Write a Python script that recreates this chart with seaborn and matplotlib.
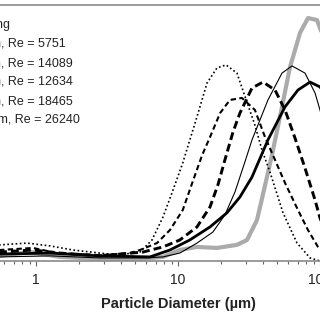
import matplotlib
matplotlib.use("Agg")
import matplotlib.pyplot as plt
import seaborn as sns
import pandas as pd
from matplotlib.ticker import LogLocator, NullFormatter, FixedLocator, FixedFormatter

# Particle size distributions: diameter (um) vs volume density (%)
milling_d = [0.3, 0.558, 0.907, 1.476, 2.82, 4.59, 7.84, 10.3, 13.6, 18.8, 26.0, 30.6, 36.0,
             40.3, 45.9, 54.0, 61.5, 66.7, 72.3, 82.3, 95.3, 100, 117.6, 138, 163, 191, 225]
milling_v = [0.15, 0.20, 0.35, 0.16, 0.08, 0.04, 0.16, 0.43, 0.55, 0.51, 0.63, 0.82, 1.60,
             2.77, 4.14, 6.02, 7.58, 8.24, 8.91, 9.49, 9.41, 9.10, 8.0, 6.3, 3.9, 1.6, 0.4]

re5751_d = [0.3, 0.558, 1.255, 2.82, 6.35, 8.78, 12.1, 16.8, 22.1, 27.3, 33.2, 43.0, 56.7,
            70.0, 85.1, 100, 127.6, 162.6, 265, 430]
re5751_v = [0.2, 0.27, 0.31, 0.20, 0.16, 0.43, 0.82, 1.33, 1.88, 2.50, 3.28, 4.73, 6.02,
            6.68, 6.99, 6.80, 5.90, 4.34, 1.60, 0.23]

re14089_d = [0.3, 0.558, 1.255, 2.82, 6.05, 7.84, 10.3, 13.6, 17.6, 21.4, 25.2, 29.6, 33.2,
             43.0, 54.0, 63.5, 78.4, 92.3, 100, 117.6, 150, 225, 366]
re14089_v = [0.1, 0.16, 0.20, 0.12, 0.12, 0.16, 0.31, 0.70, 1.13, 1.80, 2.70, 3.87, 4.73,
             6.29, 7.34, 7.62, 7.34, 6.56, 5.90, 4.3, 2.4, 0.43, 0.04]

re12634_d = [0.3, 0.558, 0.952, 1.476, 2.82, 5.67, 7.84, 10.3, 13.6, 16.8, 19.1, 21.4, 24.4,
             27.3, 33.2, 39.7, 48.2, 56.7, 66.7, 78.4, 92.3, 100, 117.6, 150]
re12634_v = [0.3, 0.35, 0.43, 0.31, 0.20, 0.35, 0.55, 0.82, 1.33, 2.11, 2.97, 3.95, 5.04,
             5.78, 6.76, 6.99, 6.68, 5.90, 4.80, 3.63, 2.38, 1.68, 0.63, 0.12]

re18465_d = [0.3, 0.558, 0.952, 1.405, 2.82, 4.59, 5.40, 7.11, 8.78, 10.8, 12.8, 14.8, 16.8,
             19.8, 23.2, 28.2, 34.8, 41.0, 48.2, 56.7, 70.0, 82.3, 96.8, 117.6, 150]
re18465_v = [0.35, 0.43, 0.51, 0.31, 0.23, 0.31, 0.43, 0.70, 1.21, 1.99, 3.16, 4.14, 4.84,
             5.78, 6.29, 6.37, 5.90, 4.84, 3.95, 3.05, 1.99, 1.21, 0.55, 0.12, 0.0]

re26240_d = [0.3, 0.558, 0.864, 1.255, 1.82, 2.82, 3.72, 5.40, 6.56, 7.84, 9.22, 10.8, 13.6,
             16.0, 18.8, 21.8, 26.0, 34.8, 39.0, 44.4, 54.9, 68.9, 85.1, 100, 150]
re26240_v = [0.5, 0.63, 0.70, 0.59, 0.43, 0.31, 0.23, 0.35, 0.82, 1.72, 2.77, 3.83, 5.63,
             6.95, 7.54, 7.66, 7.34, 5.31, 4.34, 3.48, 1.88, 0.70, 0.12, 0.0, 0.0]

labels = ["Spiral Jet Milling",
          "Nozzle 2.0 mm, Re = 5751",
          "Nozzle 1.5 mm, Re = 14089",
          "Nozzle 1.0 mm, Re = 12634",
          "Nozzle 1.0 mm, Re = 18465",
          "Nozzle 0.75 mm, Re = 26240"]

series = [
    (milling_d, milling_v, dict(color="#ababab", lw=3.0, ls="-")),
    (re5751_d, re5751_v, dict(color="black", lw=2.0, ls="-")),
    (re14089_d, re14089_v, dict(color="black", lw=0.8, ls="-")),
    (re12634_d, re12634_v, dict(color="black", lw=2.1, ls=(0, (2.7, 1.4)))),
    (re18465_d, re18465_v, dict(color="black", lw=1.5, ls=(0, (2.6, 1.6)))),
    (re26240_d, re26240_v, dict(color="black", lw=1.2, ls=(0, (1, 1.5)))),
]

sns.set_style("ticks")
plt.rcParams["font.family"] = ["Liberation Sans", "DejaVu Sans"]

fig = plt.figure(figsize=(3.2, 3.2), dpi=100)
# the original is a crop of a larger chart: the axes run past the left/right edges
ax = fig.add_axes([-0.33125, 0.184375, 1.775, 0.8])

for (d, v, style), lab in zip(series, labels):
    df = pd.DataFrame({"d": d, "v": v})
    sns.lineplot(data=df, x="d", y="v", ax=ax, label=lab, sort=False,
                 color=style["color"], linewidth=style["lw"], linestyle=style["ls"])

ax.set_xscale("log")
ax.set_xlim(0.1, 1000)
ax.set_ylim(0, 10)
ax.xaxis.set_major_locator(FixedLocator([1, 10, 100]))
ax.xaxis.set_major_formatter(FixedFormatter(["1", "10", "100"]))
ax.xaxis.set_minor_locator(LogLocator(base=10, subs=range(2, 10)))
ax.xaxis.set_minor_formatter(NullFormatter())
ax.tick_params(axis="x", which="major", direction="out", length=3.5, width=0.8,
               color="#666666", labelsize=10, pad=5, labelcolor="#222222")
ax.tick_params(axis="x", which="minor", direction="out", length=2.5, width=0.8, color="#666666")
ax.set_yticks([])
ax.set_ylabel("")
ax.set_xlabel("Particle Diameter (\u00b5m)", fontsize=10.5, fontweight="bold",
              color="#222222", labelpad=7)

for side in ["top", "bottom", "left", "right"]:
    ax.spines[side].set_visible(True)
    ax.spines[side].set_color("#8a8a8a")
    ax.spines[side].set_linewidth(1.2)

leg = ax.legend(loc="upper right", bbox_to_anchor=(80 / 320, 1 - 19 / 320),
                bbox_transform=fig.transFigure, frameon=False, fontsize=9,
                borderpad=0, borderaxespad=0, labelspacing=0.56, handlelength=3)
for t in leg.get_texts():
    t.set_color("#222222")

fig.savefig("out.png", dpi=100)
